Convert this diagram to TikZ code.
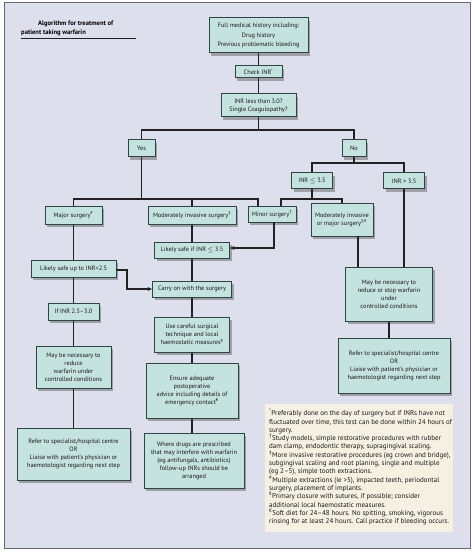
\documentclass[tikz,border=0pt]{standalone}
\usepackage{fontspec}
\setmainfont{PT Sans}
\usetikzlibrary{shadows,arrows.meta}
\definecolor{bgc}{HTML}{DEDFEC}
\definecolor{boxc}{HTML}{C4E2DE}
\definecolor{edgec}{HTML}{2E4544}
\definecolor{linec}{HTML}{222222}
\definecolor{notec}{HTML}{F5F0E1}
\definecolor{framec}{HTML}{6A6A72}
\tikzset{
  fbox/.style={draw=edgec, line width=1pt, fill=boxc, align=center, inner sep=0pt,
    text=black!90, font=\fontsize{6.3}{8}\selectfont,
    drop shadow={shadow xshift=2.4pt, shadow yshift=-2.6pt, opacity=0.42, fill=black!70}},
  conn/.style={draw=linec, line width=1.2pt},
  arr/.style={conn, -{Stealth[length=4.5pt,width=4pt]}},
}
\begin{document}
\begin{tikzpicture}[x=1pt,y=-1pt]
\useasboundingbox (0,0) rectangle (474,553);
\fill[white] (0,0) rectangle (474,553);
\fill[bgc] (4,3) rectangle (470,548);
\draw[framec, line width=1pt] (4,3) rectangle (470,548);

% title
\node[anchor=base west, inner sep=0pt, font=\fontsize{6.6}{7}\selectfont\bfseries] (t1) at (38,26) {Algorithm for treatment of};
\node[anchor=base west, inner sep=0pt, font=\fontsize{6.6}{7}\selectfont\bfseries] (t2) at (21,35) {patient taking warfarin};
\coordinate (ul1) at (21,38);
\coordinate (ul2) at (136,38);
\draw[linec, line width=0.6pt] (ul1) -- (ul2);

% nodes
\node[fbox, minimum width=99pt, minimum height=35pt, font=\fontsize{6.3}{9.2}\selectfont] (hist) at (258.5,35.5) {Full medical history including:\\Drug history\\Previous problematic bleeding};
\node[fbox, minimum width=47pt, minimum height=12pt] (check) at (258.5,72) {Check INR\textsuperscript{*}};
\node[fbox, minimum width=75pt, minimum height=23pt] (inr) at (258.5,105.5) {INR less than 3.0?\\Single Coagulopathy?};
\node[fbox, minimum width=27pt, minimum height=17pt] (yes) at (141.5,148.5) {Yes};
\node[fbox, minimum width=24pt, minimum height=17pt] (no) at (354,148.5) {No};
\node[fbox, minimum width=41pt, minimum height=16pt] (inrle) at (312,181) {INR $\leq$ 3.5};
\node[fbox, minimum width=41pt, minimum height=16pt] (inrgt) at (404,181) {INR > 3.5};
\node[fbox, minimum width=57pt, minimum height=18pt] (major) at (73.5,215) {Major surgery\textsuperscript{\#}};
\node[fbox, minimum width=88pt, minimum height=18pt] (moder) at (192,215) {Moderately invasive surgery\textsuperscript{‡}};
\node[fbox, minimum width=48pt, minimum height=16pt] (minor) at (272,214) {Minor surgery\textsuperscript{†}};
\node[fbox, minimum width=62pt, minimum height=33pt] (modmaj) at (342,219.5) {Moderately invasive\\or major surgery\textsuperscript{‡,\#}};
\node[fbox, minimum width=75pt, minimum height=16pt] (safe35) at (192,250) {Likely safe if INR $\leq$ 3.5};
\node[fbox, minimum width=85pt, minimum height=17pt] (safe25) at (73.5,268.5) {Likely safe up to INR<2.5};
\node[fbox, minimum width=79pt, minimum height=16pt] (carry) at (192,289) {Carry on with the surgery};
\node[fbox, minimum width=51pt, minimum height=17pt] (ifinr) at (73.5,311.5) {If INR 2.5–3.0};
\node[fbox, minimum width=75pt, minimum height=35pt] (careful) at (192,334.5) {Use careful surgical\\technique and local\\haemostatic measures\textsuperscript{§}};
\node[fbox, minimum width=75pt, minimum height=42pt] (mayl) at (73.5,367) {May be necessary to\\reduce\\warfarin under\\controlled conditions};
\node[fbox, minimum width=92pt, minimum height=55pt] (ensure) at (192,390.5) {Ensure adequate\\postoperative\\advice including details of\\emergency contact\textsuperscript{€}};
\node[fbox, minimum width=113pt, minimum height=52pt] (refl) at (73.5,454) {Refer to specialist/hospital centre\\OR\\Liaise with patient’s physician or\\haemotologist regarding next step};
\node[fbox, minimum width=100pt, minimum height=55pt] (drugs) at (194,460.5) {Where drugs are prescribed\\that may interfere with warfarin\\(eg antifungals, antibiotics)\\follow-up INRs should be\\arranged};
\node[fbox, minimum width=87pt, minimum height=54pt] (mayr) at (389,294) {May be necessary to\\reduce or stop warfarin\\under\\controlled conditions};
\node[fbox, minimum width=112pt, minimum height=55pt] (refr) at (394,365.5) {Refer to specialist/hospital centre\\OR\\Liaise with patient’s physician or\\haemotologist regarding next step};

% footnotes
\node[fill=notec, minimum width=188pt, minimum height=128pt, inner sep=0pt] (notebox) at (359,468) {};
\node[anchor=north west, inner sep=0pt, align=left, text=black!90, font=\fontsize{7}{8.3}\selectfont] (notes) at (269,409) {%
\textsuperscript{*}Preferably done on the day of surgery but if INRs have not\\
fluctuated over time, this test can be done within 24 hours of\\
surgery.\\
\textsuperscript{†}Study models, simple restorative procedures with rubber\\
dam clamp, endodontic therapy, supragingival scaling.\\
\textsuperscript{‡}More invasive restorative procedures (eg crown and bridge),\\
subgingival scaling and root planing, single and multiple\\
(eg 2–5), simple tooth extractions.\\
\textsuperscript{\#}Multiple extractions (ie >5), impacted teeth, periodontal\\
surgery, placement of implants.\\
\textsuperscript{§}Primary closure with sutures, if possible; consider\\
additional local haemostatic measures.\\
\textsuperscript{€}Soft diet for 24–48 hours. No spitting, smoking, vigorous\\
rinsing for at least 24 hours. Call practice if bleeding occurs.};

% junction coordinates
\coordinate (j1) at (258.5,130);
\coordinate (j2) at (141.5,199);
\coordinate (j2r) at (258,199);
\coordinate (j3) at (354,163);
\coordinate (j4) at (312,199);
\coordinate (j4l) at (281,199);
\coordinate (mint) at (281,206);
\coordinate (mint2) at (258,206);
\coordinate (mnb) at (274,222);
\coordinate (mnc) at (274,248);
\coordinate (s25r) at (116,270);
\coordinate (s25c) at (127,270);
\coordinate (mmb) at (358,236);
\coordinate (mrt) at (358,267);

% connectors
\draw[conn] (hist) -- (check);
\draw[conn] (check) -- (inr);
\draw[conn] (inr) -- (j1);
\draw[conn] (yes.north) |- (j1) -| (no.north);
\draw[conn] (yes) -- (j2);
\draw[conn] (major.north) |- (j2) -- (j2r) -- (mint2);
\draw[conn] (moder.north) -- (moder.north |- j2);
\draw[conn] (no) -- (j3);
\draw[conn] (inrle.north) |- (j3) -| (inrgt.north);
\draw[conn] (inrle) -- (j4);
\draw[conn] (mint) |- (j4) -| (modmaj.north);
\draw[conn] (moder) -- (safe35);
\draw[arr] (mnb) -- (mnc) -- (safe35.east |- mnc);
\draw[conn] (safe35) -- (carry);
\draw[conn] (major) -- (safe25);
\draw[arr] (s25r) -- (s25c) |- (carry.west);
\draw[conn] (safe25) -- (ifinr);
\draw[conn] (ifinr) -- (mayl);
\draw[conn] (mayl) -- (refl);
\draw[conn] (carry) -- (careful);
\draw[conn] (careful) -- (ensure);
\draw[conn] (ensure.south) -- (ensure.south |- drugs.north);
\draw[conn] (mmb) -- (mrt);
\draw[conn] (inrgt.south) -- (inrgt.south |- mayr.north);
\draw[conn] (mayr) -- (refr.north -| mayr);
\end{tikzpicture}
\end{document}
